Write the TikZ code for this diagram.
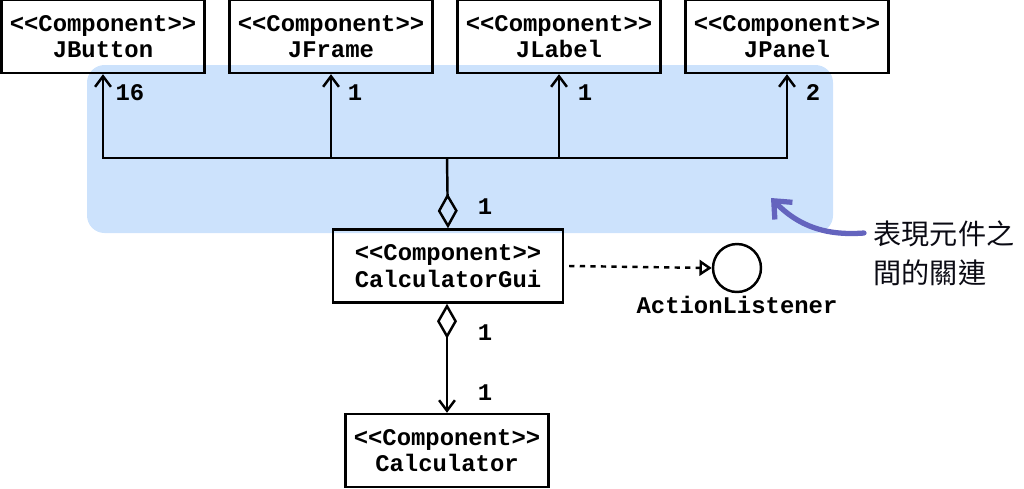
\documentclass[tikz,border=0pt]{standalone}
\usepackage{fontspec}
\setmainfont{Liberation Mono}
\newfontfamily\cjk{Noto Sans CJK TC}
\usetikzlibrary{positioning,arrows.meta,shapes.geometric}
\definecolor{hilite}{RGB}{204,226,252}
\definecolor{note}{RGB}{100,100,190}
\newcommand{\stereo}{<{}<Component>{}>}
\begin{document}
\begin{tikzpicture}[x=0.02cm,y=-0.02cm,font=\fontsize{13.6}{15}\selectfont\bfseries,
  comp/.style={draw,line width=1.4pt,minimum width=4.06cm,minimum height=1.46cm,align=center,inner sep=0pt},
  assoc/.style={line width=1.4pt,-{Straight Barb[length=6pt,width=9pt]}},
  agg/.style={line width=1.4pt,{Diamond[open,length=0.7cm,width=0.4cm]}-},
  aggassoc/.style={line width=1.4pt,{Diamond[open,length=0.7cm,width=0.4cm]}-{Straight Barb[length=6pt,width=9pt]}},
  mult/.style={inner sep=1pt}]
\useasboundingbox (0,0) rectangle (1024,488);
\fill[hilite,rounded corners=10pt] (87,65) rectangle (833,233);

% component boxes
\node[comp] (JButton) at (103,36.5) {\stereo\\JButton};
\node[comp] (JFrame) at (331,36.5) {\stereo\\JFrame};
\node[comp] (JLabel) at (559,36.5) {\stereo\\JLabel};
\node[comp] (JPanel) at (787,36.5) {\stereo\\JPanel};
\node[comp,minimum width=4.6cm] (Gui) at (448,266) {\stereo\\CalculatorGui};
\node[comp] (Calc) at (447,450.5) {\stereo\\Calculator};

% interface
\node[draw,circle,line width=1.4pt,minimum size=0.96cm] (AL) at (737,268) {};
\node[below=-2pt of AL] (ALlabel) {ActionListener};

% bus
\coordinate (bus) at (447,158);
\draw[agg] (Gui.north) -- (bus);
\draw[assoc] (bus) -| (JButton.south);
\draw[assoc] (bus) -| (JFrame.south);
\draw[assoc] (bus) -| (JLabel.south);
\draw[assoc] (bus) -| (JPanel.south);
\node[mult] at (130,93) {16};
\node[mult] at (355,93) {1};
\node[mult] at (585,93) {1};
\node[mult] at (813,93) {2};
\node[mult] at (485,207) {1};

\draw[aggassoc] (Gui.south -| Calc.north) -- (Calc.north);
\node[mult] at (485,333) {1};
\node[mult] at (485,393) {1};

\draw[line width=1.4pt,dashed,-{Triangle[open,length=7pt,width=9pt]}] (Gui.east) ++(5,0) -- (AL.west);

% annotation
\node[font=\cjk\fontsize{16}{22}\selectfont,align=left,note!10!black] (anno) at (944,253) {表現元件之\\間的關連};
\draw[note,line width=3pt,line cap=round,-{Straight Barb[length=8pt,width=14pt]}] (864,233) to[bend left=25] (771,198);
\end{tikzpicture}
\end{document}
